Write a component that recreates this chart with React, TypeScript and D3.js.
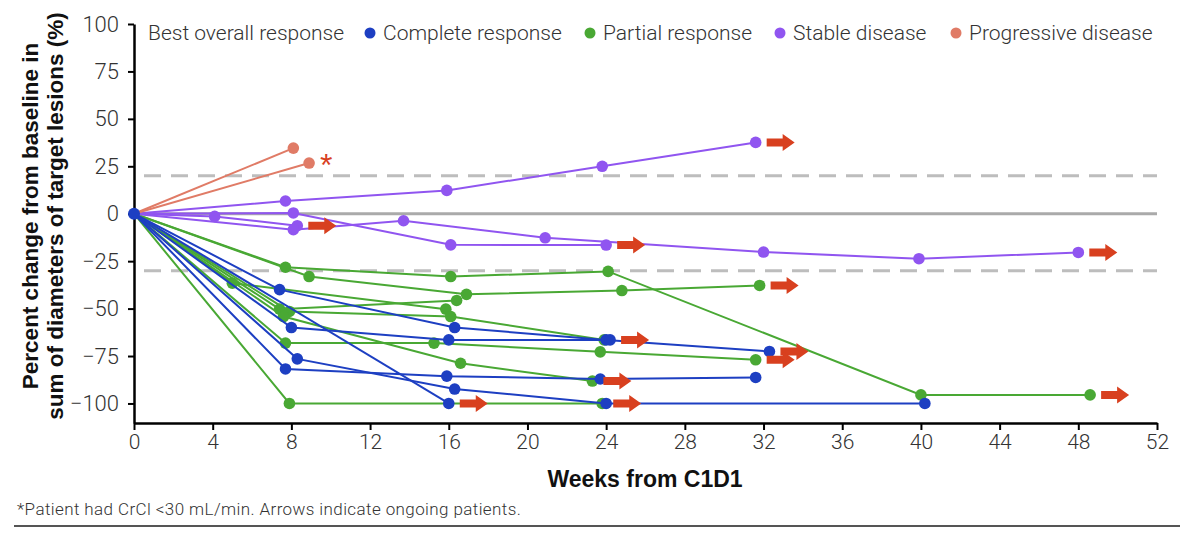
import { useEffect, useRef } from 'react';
import * as d3 from 'd3';

interface Patient {
    weeks: number[];
    change: number[];
    ongoing?: boolean;
}

const completeResponse: Patient[] = [
    { weeks: [0, 7.4, 16.3, 24.0, 32.3], change: [0, -40, -60, -66.5, -72.6], ongoing: true },
    { weeks: [0, 8.0, 16.0, 24.2], change: [0, -60, -66.5, -66.5], ongoing: true },
    { weeks: [0, 7.7, 15.9, 23.7, 31.6], change: [0, -81.8, -85.6, -87.1, -86.3] },
    { weeks: [0, 8.3, 16.3, 24.0, 40.2], change: [0, -76.5, -92.4, -100, -100] },
    { weeks: [0, 16.0], change: [0, -100], ongoing: true },
];

const partialResponse: Patient[] = [
    { weeks: [0, 7.7, 16.1, 24.1, 40.0, 48.6], change: [0, -28.2, -33.1, -30.4, -95.5, -95.5], ongoing: true },
    { weeks: [0, 8.9, 16.9, 24.8, 31.8], change: [0, -33.1, -42.5, -40.5, -37.8], ongoing: true },
    { weeks: [0, 5.0, 15.85], change: [0, -36.6, -50.3] },
    { weeks: [0, 7.4, 16.4], change: [0, -50.3, -45.7] },
    { weeks: [0, 7.9, 16.1, 23.9], change: [0, -51.5, -54.2, -66.5] },
    { weeks: [0, 7.6, 16.6, 23.3], change: [0, -54.2, -78.8, -88.2], ongoing: true },
    { weeks: [0, 7.7, 15.25, 23.7, 31.6], change: [0, -68.2, -68.2, -72.8, -77], ongoing: true },
    { weeks: [0, 7.9, 23.8], change: [0, -100, -100], ongoing: true },
];

const stableDisease: Patient[] = [
    { weeks: [0, 7.7, 15.9, 23.8, 31.6], change: [0, 6.7, 12.3, 25, 37.6], ongoing: true },
    { weeks: [0, 4.1, 8.3], change: [0, -1.4, -6.3], ongoing: true },
    { weeks: [0, 8.1, 16.1, 24.0], change: [0, 0.4, -16.4, -16.5], ongoing: true },
    { weeks: [0, 8.1, 13.7, 20.9, 32.0, 39.9, 48.0], change: [0, -8.4, -3.7, -12.7, -20.2, -23.7, -20.4], ongoing: true },
];

const progressiveDisease: Patient[] = [
    { weeks: [0, 8.1], change: [0, 34.6] },
    { weeks: [0, 8.9], change: [0, 26.7] },
];

const legendLabels = ['Complete response', 'Partial response', 'Stable disease', 'Progressive disease'];
const xTickValues = [0, 4, 8, 12, 16, 20, 24, 28, 32, 36, 40, 44, 48, 52];
const yTickValues = [-100, -75, -50, -25, 0, 25, 50, 75, 100];
const referenceLines = [20, -30];

const COLORS = ['#1d3fc2', '#49a834', '#9055f0', '#e07b66'];
const ARROW = '#d8401f';
const FONT = 'Roboto, "Liberation Sans", Arial, sans-serif';
const BOLD = '"Liberation Sans", Arial, sans-serif';

const margin = { left: 134, right: 43, top: 24, bottom: 117 };
const width = 1200;
const height = 540;

export default function App() {
    const xAxisEl = useRef<SVGGElement>(null);
    const yAxisEl = useRef<SVGGElement>(null);

    const x = d3.scaleLinear().domain([0, 52]).range([margin.left, width - margin.right]);
    const y = d3.scaleLinear().domain([-110.3, 100]).range([height - margin.bottom, margin.top]);

    const line = d3
        .line<[number, number]>()
        .x((d) => x(d[0]))
        .y((d) => y(d[1]));

    useEffect(() => {
        if (xAxisEl.current) {
            const g = d3.select(xAxisEl.current);
            g.call(d3.axisBottom(x).tickValues(xTickValues).tickSize(7).tickPadding(4).tickSizeOuter(0));
            g.select('.domain').attr('stroke-width', 2.5);
            g.selectAll('.tick line').attr('stroke-width', 2);
            g.selectAll('.tick text')
                .attr('font-size', 21)
                .attr('font-family', FONT)
                .attr('font-weight', 300)
                .attr('fill', '#333');
        }
        if (yAxisEl.current) {
            const g = d3.select(yAxisEl.current);
            g.call(d3.axisLeft(y).tickValues(yTickValues).tickSize(6).tickPadding(9).tickSizeOuter(0));
            g.select('.domain').attr('stroke-width', 2.5);
            g.selectAll('.tick line').attr('stroke-width', 2);
            g.selectAll('.tick text')
                .attr('font-size', 22)
                .attr('font-family', FONT)
                .attr('font-weight', 300)
                .attr('fill', '#333');
        }
    }, []);

    const groups = [completeResponse, partialResponse, stableDisease, progressiveDisease];
    // draw order: green under blue, purple and salmon on top
    const drawOrder = [1, 0, 2, 3];

    const arrowPath = (px: number, py: number) => {
        const x0 = px + 11;
        return `M${x0},${py - 4}H${x0 + 16}V${py - 8.5}L${x0 + 28},${py}L${x0 + 16},${py + 8.5}V${py + 4}H${x0}Z`;
    };

    const legendPos = [370, 590, 780, 956];

    return (
        <svg
            width={width}
            height={height}
            viewBox={`0 0 ${width} ${height}`}
            style={{ position: 'absolute', left: 0, top: 0, background: '#fff' }}
        >
            {/* reference lines */}
            <line x1={x(0)} x2={x(52)} y1={y(0)} y2={y(0)} stroke="#aaa" strokeWidth={3} />
            {referenceLines.map((v) => (
                <line
                    key={v}
                    x1={x(0) + 10}
                    x2={x(52)}
                    y1={y(v)}
                    y2={y(v)}
                    stroke="#bdbdbd"
                    strokeWidth={3}
                    strokeDasharray="17 10"
                />
            ))}

            <g ref={xAxisEl} transform={`translate(0, ${height - margin.bottom})`} />
            <g ref={yAxisEl} transform={`translate(${margin.left}, 0)`} />

            {drawOrder.map((gi) => (
                <g key={gi}>
                    {groups[gi].map((p, i) => {
                        const pts = p.weeks.map((w, k) => [w, p.change[k]] as [number, number]);
                        return (
                            <path key={i} d={line(pts) ?? ''} fill="none" stroke={COLORS[gi]} strokeWidth={2} />
                        );
                    })}
                    {groups[gi].map((p, i) =>
                        p.weeks.map((w, k) =>
                            k === 0 ? null : (
                                <circle key={`${i}-${k}`} cx={x(w)} cy={y(p.change[k])} r={5.8} fill={COLORS[gi]} />
                            )
                        )
                    )}
                </g>
            ))}

            {groups.map((grp, gi) =>
                grp
                    .filter((p) => p.ongoing)
                    .map((p, i) => {
                        const last = p.weeks.length - 1;
                        return (
                            <path
                                key={`a${gi}-${i}`}
                                d={arrowPath(x(p.weeks[last]), y(p.change[last]))}
                                fill={ARROW}
                            />
                        );
                    })
            )}

            {/* shared baseline point */}
            <circle cx={x(0)} cy={y(0)} r={6} fill={COLORS[0]} />

            {/* CrCl footnote marker */}
            <text
                x={x(progressiveDisease[1].weeks[1]) + 11}
                y={y(progressiveDisease[1].change[1]) + 13}
                fontSize={32}
                fontFamily={BOLD}
                fill={ARROW}
            >
                *
            </text>

            {/* legend */}
            <text x={148} y={40} fontSize={21} fontFamily={FONT} fontWeight={300} fill="#333">
                Best overall response
            </text>
            {legendLabels.map((label, i) => (
                <g key={label}>
                    <circle cx={legendPos[i]} cy={33} r={5.5} fill={COLORS[i]} />
                    <text x={legendPos[i] + 13} y={40} fontSize={21} fontFamily={FONT} fontWeight={300} fill="#333">
                        {label}
                    </text>
                </g>
            ))}

            {/* axis titles */}
            <text
                transform="translate(38, 216) rotate(-90)"
                textAnchor="middle"
                fontSize={22.5}
                fontWeight="bold"
                fontFamily={BOLD}
                fill="#111"
            >
                Percent change from baseline in
            </text>
            <text
                transform="translate(63, 216) rotate(-90)"
                textAnchor="middle"
                fontSize={22.5}
                fontWeight="bold"
                fontFamily={BOLD}
                fill="#111"
            >
                sum of diameters of target lesions (%)
            </text>
            <text
                x={645}
                y={487}
                textAnchor="middle"
                fontSize={23}
                fontWeight="bold"
                fontFamily={BOLD}
                fill="#111"
            >
                Weeks from C1D1
            </text>

            <text x={17} y={515} fontSize={17} letterSpacing={0.4} fontFamily={FONT} fontWeight={300} fill="#333">
                *Patient had CrCl &lt;30 mL/min. Arrows indicate ongoing patients.
            </text>
            <line x1={14} x2={1180} y1={526} y2={526} stroke="#555" strokeWidth={2} />
        </svg>
    );
}
